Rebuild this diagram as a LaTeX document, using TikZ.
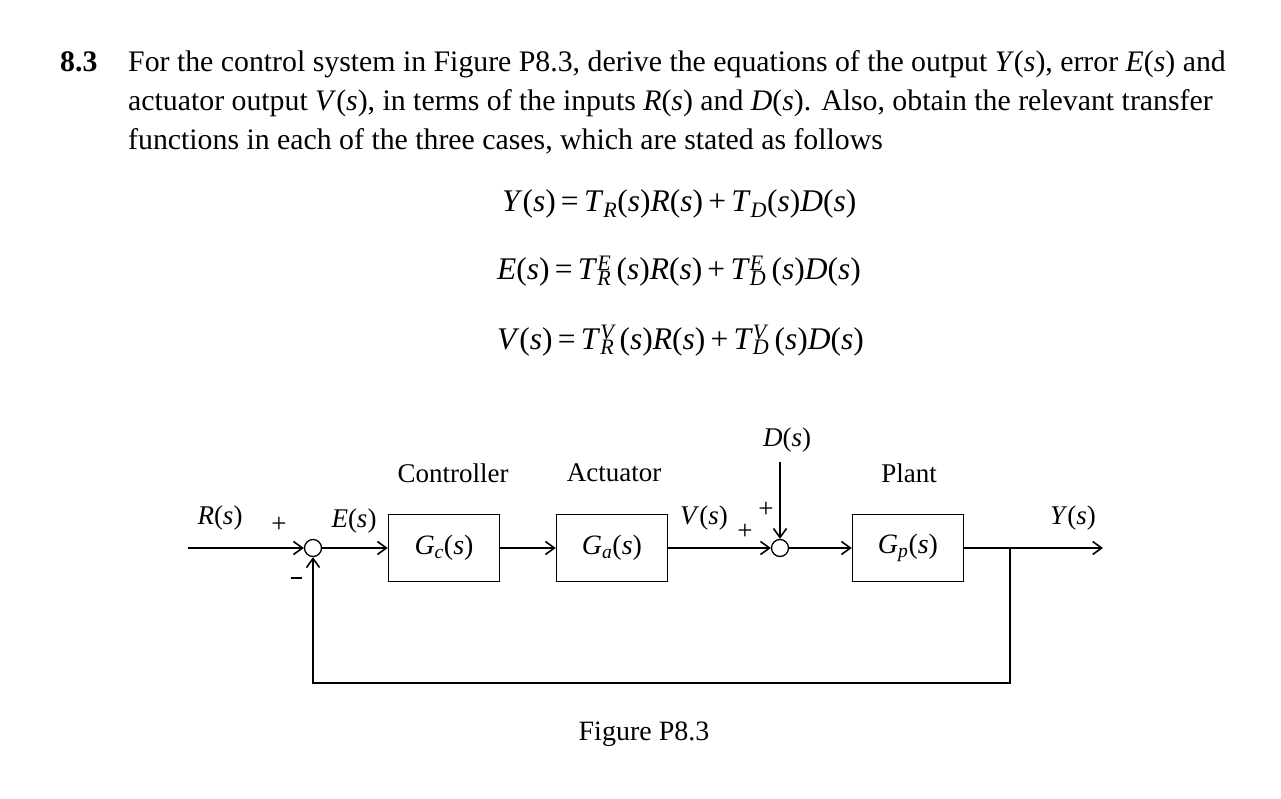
\documentclass[tikz,border=0pt]{standalone}
\usepackage{fontspec}
\setmainfont{Liberation Serif}
\usetikzlibrary{arrows.meta}
\newcommand{\iv}[1]{\textit{#1}}
\newcommand{\sps}[2]{\makebox[0pt][l]{\textsuperscript{\iv{#1}}}\textsubscript{\iv{#2}}}
\begin{document}
\begin{tikzpicture}[x=1pt,y=-1pt,
  txt/.style={font=\fontsize{29.8}{34}\selectfont,inner sep=0},
  eq/.style={font=\fontsize{31.5}{36}\selectfont,inner sep=0},
  lab/.style={font=\fontsize{27}{30}\selectfont,inner sep=0},
  blk/.style={draw,line width=1.5pt,minimum width=111pt,minimum height=67pt,font=\fontsize{28}{30}\selectfont},
  sum/.style={draw,circle,line width=1.3pt,minimum size=17pt,inner sep=0},
  ln/.style={line width=1.6pt},
  ar/.style={ln,-{Straight Barb[length=9pt,width=13pt,line width=1.6pt]}}]
\useasboundingbox[fill=white] (0,0) rectangle (1281,799);
\node[txt,anchor=base west,font=\fontsize{29.8}{34}\selectfont\bfseries] (num) at (60,72) {8.3};
\node[txt,anchor=base west] (l1) at (128,72) {For the control system in Figure P8.3, derive the equations of the output \iv{Y}(\iv{s}), error \iv{E}(\iv{s}) and};
\node[txt,anchor=base west] (l2) at (128,111) {actuator output \iv{V}(\iv{s}), in terms of the inputs \iv{R}(\iv{s}) and \iv{D}(\iv{s}). Also, obtain the relevant transfer};
\node[txt,anchor=base west] (l3) at (128,150) {functions in each of the three cases, which are stated as follows};
\node[eq,anchor=base west] (e1) at (502,212) {\iv{Y}(\iv{s})\,=\,\iv{T}\textsubscript{\iv{R}}(\iv{s})\iv{R}(\iv{s})\,+\,\iv{T}\textsubscript{\iv{D}}(\iv{s})\iv{D}(\iv{s})};
\node[eq,anchor=base west] (e2) at (497,280) {\iv{E}(\iv{s})\,=\,\iv{T}\sps{E}{R}\,(\iv{s})\iv{R}(\iv{s})\,+\,\iv{T}\sps{E}{D}\,(\iv{s})\iv{D}(\iv{s})};
\node[eq,anchor=base west] (e3) at (497,349) {\iv{V}(\iv{s})\,=\,\iv{T}\sps{V}{R}\,(\iv{s})\iv{R}(\iv{s})\,+\,\iv{T}\sps{V}{D}\,(\iv{s})\iv{D}(\iv{s})};

\node[sum] (s1) at (313,548) {};
\node[sum] (s2) at (780,548) {};
\node[blk] (gc) at (444,548) {\iv{G}\textsubscript{\iv{c}}(\iv{s})};
\node[blk] (ga) at (612,548) {\iv{G}\textsubscript{\iv{a}}(\iv{s})};
\node[blk] (gp) at (908,548) {\iv{G}\textsubscript{\iv{p}}(\iv{s})};
\coordinate (rin) at (188,548);
\coordinate (yout) at (1103,548);
\coordinate (br) at (1010,548);
\coordinate (fb1) at (1010,683);
\coordinate (fb2) at (313,683);
\coordinate (din) at (780,462);
\draw[ar] (rin) -- (s1);
\draw[ar] (s1) -- (gc);
\draw[ar] (gc) -- (ga);
\draw[ar] (ga) -- (s2);
\draw[ar] (s2) -- (gp);
\draw[ar] (gp) -- (yout);
\draw[ar] (din) -- (s2);
\draw[ar] (br) -- (fb1) -- (fb2) -- (s1);

\node[lab] (tc) at (453,473) {Controller};
\node[lab] (ta) at (614,473) {Actuator};
\node[lab] (tp) at (909,473) {Plant};
\node[lab] (tr) at (220,518) {\iv{R}(\iv{s})};
\node[lab] (te) at (354,521) {\iv{E}(\iv{s})};
\node[lab] (tv) at (704,518) {\iv{V}(\iv{s})};
\node[lab] (td) at (787,440) {\iv{D}(\iv{s})};
\node[lab] (ty) at (1073,518) {\iv{Y}(\iv{s})};
\node[lab] (p1) at (279,525) {+};
\node[lab] (m1) at (296,578) {\rule{11pt}{1.2pt}};
\node[lab] (p2) at (745,532) {+};
\node[lab] (p3) at (766,510) {+};
\node[lab,font=\fontsize{28}{30}\selectfont] (cap) at (644,734) {Figure P8.3};
\end{tikzpicture}
\end{document}
